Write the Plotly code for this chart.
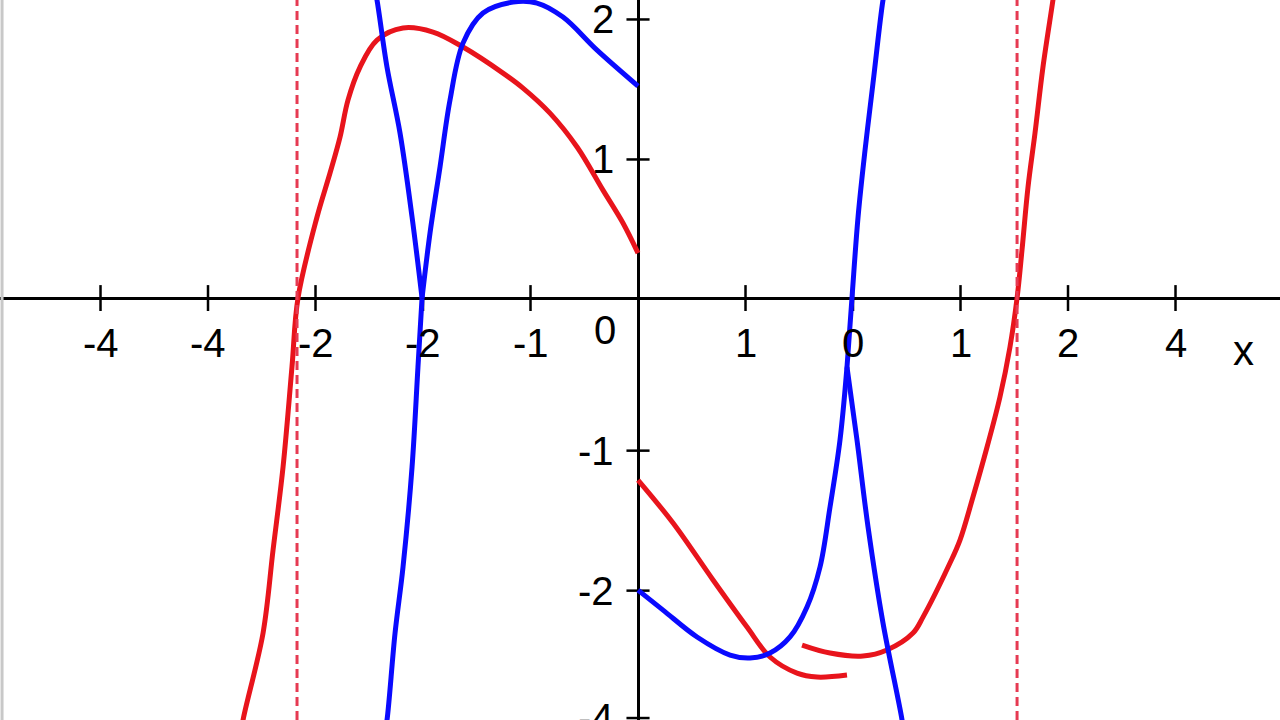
import plotly.graph_objects as go

# tick positions and the labels printed under / beside them
x_ticks = [-5, -4, -3, -2, -1, 1, 2, 3, 4, 5]
x_tick_labels = ["-4", "-4", "-2", "-2", "-1", "1", "0", "1", "2", "4"]
y_ticks = [1.99, 0.99, -1.09, -2.09, -3.0]
y_tick_labels = ["2", "1", "-1", "-2", "-4"]

# blue curve, pieces split at the cusps
blue_a_x = [-2.456, -2.428, -2.335, -2.214, -2.102, -2.009]
blue_a_y = [2.236, 2.129, 1.650, 1.179, 0.579, 0.0]
blue_b_x = [-2.009, -2.047, -2.102, -2.186, -2.260, -2.335, -2.353]
blue_b_y = [0.0, -0.493, -1.207, -1.921, -2.393, -3.014, -3.086]
blue_c_x = [-2.009, -1.935, -1.842, -1.749, -1.628, -1.442, -1.163, -0.940, -0.698, -0.381, 0.0]
blue_c_y = [0.0, 0.464, 0.936, 1.414, 1.821, 2.036, 2.114, 2.107, 2.007, 1.771, 1.514]
blue_d_x = [0.0, 0.233, 0.549, 0.856, 1.042, 1.228, 1.414, 1.572, 1.693, 1.786, 1.879, 1.944]
blue_d_y = [-2.086, -2.229, -2.421, -2.55, -2.571, -2.536, -2.421, -2.207, -1.921, -1.493, -1.014, -0.493]
blue_e_x = [1.944, 1.991, 2.047, 2.112, 2.186, 2.279, 2.307]
blue_e_y = [-0.493, 0.007, 0.579, 1.057, 1.536, 2.129, 2.236]
blue_f_x = [1.944, 2.037, 2.140, 2.279, 2.456, 2.474]
blue_f_y = [-0.493, -1.014, -1.636, -2.321, -3.014, -3.121]

# red curve
red_a_x = [-3.693, -3.674, -3.488, -3.395, -3.302, -3.219, -3.163, -2.986, -2.865, -2.772,
           -2.698, -2.586, -2.428, -2.186, -1.907, -1.628, -1.256, -1.07, -0.819, -0.567,
           -0.326, -0.14, 0.0]
red_a_y = [-3.121, -3.014, -2.393, -1.8, -1.207, -0.493, 0.0, 0.579, 0.893, 1.15,
           1.414, 1.65, 1.843, 1.929, 1.9, 1.793, 1.607, 1.5, 1.321, 1.079,
           0.771, 0.536, 0.321]
red_b_x = [0.0, 0.326, 0.698, 1.014, 1.228, 1.479, 1.665, 1.944]
red_b_y = [-1.3, -1.607, -2.014, -2.35, -2.564, -2.679, -2.707, -2.693]
red_c_x = [1.526, 1.786, 2.093, 2.316, 2.558, 2.651, 2.902, 2.995, 3.116, 3.247,
           3.367, 3.460, 3.526, 3.572, 3.628, 3.693, 3.767, 3.860, 3.879]
red_c_y = [-2.479, -2.536, -2.557, -2.514, -2.393, -2.279, -1.893, -1.729, -1.421, -1.064,
           -0.707, -0.35, 0.0, 0.343, 0.793, 1.179, 1.65, 2.129, 2.236]

# vertical asymptotes
asymptotes = [-3.172, 3.526]

BLUE = "#0a0aff"
RED = "#e8141c"
DASH_RED = "#e63a52"
FONT = "Liberation Sans, Arial, sans-serif"

fig = go.Figure()

# tick marks crossing the axes
fig.add_trace(go.Scatter(
    x=x_ticks, y=[0] * len(x_ticks), mode="markers",
    marker=dict(symbol="line-ns", size=18.5, line=dict(color="black", width=2.5)),
    hoverinfo="skip", showlegend=False
))
fig.add_trace(go.Scatter(
    x=[0] * len(y_ticks), y=y_ticks, mode="markers",
    marker=dict(symbol="line-ew", size=16.5, line=dict(color="black", width=2.5)),
    hoverinfo="skip", showlegend=False
))

for xa in asymptotes:
    fig.add_vline(x=xa, line=dict(color=DASH_RED, width=3, dash="9px,5px"))

for xs, ys, color in [
    (red_a_x, red_a_y, RED), (red_b_x, red_b_y, RED), (red_c_x, red_c_y, RED),
    (blue_a_x, blue_a_y, BLUE), (blue_b_x, blue_b_y, BLUE), (blue_c_x, blue_c_y, BLUE),
    (blue_d_x, blue_d_y, BLUE), (blue_e_x, blue_e_y, BLUE), (blue_f_x, blue_f_y, BLUE),
]:
    fig.add_trace(go.Scatter(
        x=xs, y=ys, mode="lines",
        line=dict(color=color, width=5, shape="spline", smoothing=1.0),
        hoverinfo="skip", showlegend=False
    ))

# tick labels
for xv, lab in zip(x_ticks, x_tick_labels):
    fig.add_annotation(x=xv, y=0, text=lab, showarrow=False, yshift=-45,
                       font=dict(size=40, color="black", family=FONT))
for yv, lab in zip(y_ticks, y_tick_labels):
    fig.add_annotation(x=0, y=yv, text=lab, showarrow=False, xanchor="right", xshift=-22,
                       font=dict(size=40, color="black", family=FONT))
fig.add_annotation(x=-0.307, y=0, text="0", showarrow=False, yshift=-32,
                   font=dict(size=40, color="black", family=FONT))
fig.add_annotation(x=5.628, y=0, text="x", showarrow=False, yshift=-52,
                   font=dict(size=42, color="black", family=FONT))

# thin grey frame line on the left edge
fig.add_shape(type="line", xref="paper", yref="paper", x0=0.0016, x1=0.0016, y0=0, y1=1,
              line=dict(color="#c8c8c8", width=3))

fig.update_xaxes(range=[-5.935, 5.972], showgrid=False, showticklabels=False, ticks="",
                 zeroline=True, zerolinecolor="black", zerolinewidth=2.5)
fig.update_yaxes(range=[-3.014, 2.129], showgrid=False, showticklabels=False, ticks="",
                 zeroline=True, zerolinecolor="black", zerolinewidth=2.5)
fig.update_layout(
    width=1280, height=720,
    margin=dict(l=0, r=0, t=0, b=0),
    plot_bgcolor="white", paper_bgcolor="white",
    showlegend=False
)

fig.write_html("out.html", config={"displayModeBar": False},
               post_script="document.body.style.margin='0';document.body.style.overflow='hidden';")
